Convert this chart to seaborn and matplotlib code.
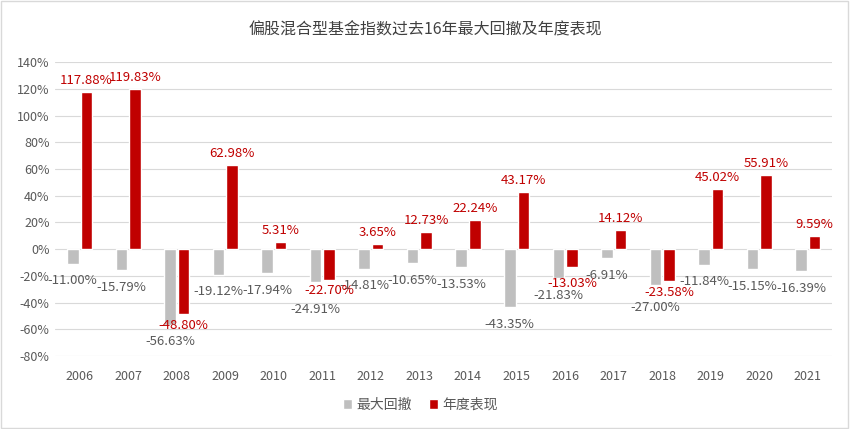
import numpy as np
import pandas as pd
import matplotlib.pyplot as plt
import seaborn as sns
from matplotlib.patches import Rectangle

sns.set_theme(style='white')
plt.rcParams['font.family'] = ['Noto Sans CJK SC', 'DejaVu Sans']

years = [str(y) for y in range(2006, 2022)]
max_drawdown = [-11.00, -15.79, -56.63, -19.12, -17.94, -24.91, -14.81, -10.65,
                -13.53, -43.35, -21.83, -6.91, -27.00, -11.84, -15.15, -16.39]
annual_return = [117.88, 119.83, -48.80, 62.98, 5.31, -22.70, 3.65, 12.73,
                 22.24, 43.17, -13.03, 14.12, -23.58, 45.02, 55.91, 9.59]
series_names = ['最大回撤', '年度表现']
colors = ['#BFBFBF', '#C00000']
label_colors = ['#595959', '#C00000']

df = pd.DataFrame({
    'year': years * 2,
    'value': max_drawdown + annual_return,
    'series': [series_names[0]] * len(years) + [series_names[1]] * len(years),
})

fig = plt.figure(figsize=(8.5, 4.29), dpi=100)
ax = fig.add_axes([0.065, 0.170, 0.914, 0.685])

sns.barplot(data=df, x='year', y='value', hue='series', palette=colors,
            width=0.56, gap=0.15, saturation=1, ax=ax, legend=True)

# labels dragged by hand where they would collide (like in the excel original)
nudge = {(0, '2011'): 14.5, (0, '2018'): 11.5,
         (1, '2008'): 3.5, (1, '2011'): 3.5, (1, '2018'): 3.5}
for k, (cont, vals) in enumerate(zip(ax.containers, [max_drawdown, annual_return])):
    for p, v, yr in zip(cont.patches, vals, years):
        if v >= 0:
            pad, va = 3.6, 'bottom'
        else:
            pad, va = -nudge.get((k, yr), 7.5), 'top'
        ax.annotate(f'{v:.2f}%', (p.get_x() + p.get_width() / 2, v),
                    xytext=(0, pad), textcoords='offset points',
                    ha='center', va=va, fontsize=9.5, color=label_colors[k])

ax.set_ylim(-80, 140)
ax.set_yticks(np.arange(-80, 141, 20))
ax.set_yticklabels([f'{t}%' for t in range(-80, 141, 20)])
ax.yaxis.grid(True, color='#D9D9D9', linewidth=0.8)
ax.set_axisbelow(True)
for s in ax.spines.values():
    s.set_visible(False)
ax.tick_params(axis='both', length=0, labelsize=9, colors='#595959', pad=4)
ax.tick_params(axis='x', pad=10)
ax.set_xlabel('')
ax.set_ylabel('')

ax.legend(loc='upper center', bbox_to_anchor=(0.47, -0.1), ncol=2, frameon=False,
          fontsize=10, handlelength=0.7, handleheight=0.7, handletextpad=0.3,
          columnspacing=1.2, labelcolor='#595959')

fig.text(0.5, 0.93, '偏股混合型基金指数过去16年最大回撤及年度表现', ha='center', va='center',
         fontsize=11.5, color='#404040')
fig.add_artist(Rectangle((0.001, 0.002), 0.997, 0.995, transform=fig.transFigure,
                         fill=False, edgecolor='#D9D9D9', linewidth=1))

fig.savefig('out.png', dpi=100)
